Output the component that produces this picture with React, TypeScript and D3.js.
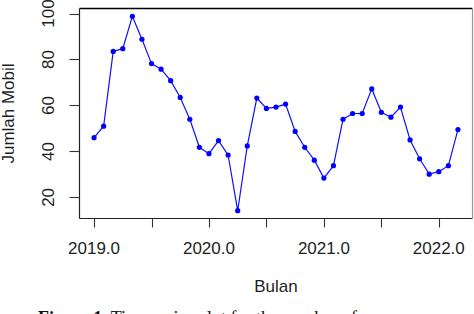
import React from "react";
import * as d3 from "d3";

const startYear = 2019;
const values = [
  46, 51, 83.5, 84.7, 98.8, 88.8, 78.2, 75.8, 70.8, 63.5, 54, 41.8,
  39, 44.7, 38.4, 14.2, 42.4, 63.2, 58.7, 59.3, 60.6, 48.7, 41.8, 36.2,
  28.4, 33.8, 54, 56.5, 56.5, 67.2, 57, 54.9, 59.3, 45, 36.8, 30.1,
  31.2, 33.8, 49.5,
];
const xTicks = [2019, 2019.5, 2020, 2020.5, 2021, 2021.5, 2022];
const xLabelTicks = [2019, 2020, 2021, 2022];
const yTicks = [20, 40, 60, 80, 100];
const xTitle = "Bulan";
const yTitle = "Jumlah Mobil";
const captionBold = "Figure 1.";
const captionText = "Time series plot for the number of";

export default function App() {
  const W = 474, H = 314;
  const left = 79.5, right = 472.5, top = 8.5, bottom = 218.5;
  const data = values.map((v, i) => ({ t: startYear + i / 12, v }));
  const tMin = d3.min(data, d => d.t)!, tMax = d3.max(data, d => d.t)!;
  const vMin = d3.min(values)!, vMax = d3.max(values)!;
  const tPad = (tMax - tMin) * 0.04, vPad = (vMax - vMin) * 0.04;
  const x = d3.scaleLinear().domain([tMin - tPad, tMax + tPad]).range([left, right]);
  const y = d3.scaleLinear().domain([vMin - vPad, vMax + vPad]).range([bottom, top]);
  const line = d3.line<{ t: number; v: number }>().x(d => x(d.t)).y(d => y(d.v));
  const font = "'Liberation Sans', Arial, sans-serif";
  const textCol = "#1e1e1e";
  return (
    <svg width={W} height={H} style={{ position: "absolute", left: 0, top: 0, background: "#fff" }}>
      <rect x={0} y={0} width={W} height={H} fill="#fff" />
      <path d={line(data)!} fill="none" stroke="#1010ff" strokeWidth={1.2} />
      {data.map((d, i) => (
        <circle key={i} cx={x(d.t)} cy={y(d.v)} r={2.6} fill="#0000ff" />
      ))}
      <line x1={left} y1={top} x2={right} y2={top} stroke="#000" strokeWidth={1.3} />
      <line x1={left} y1={bottom} x2={right} y2={bottom} stroke="#222" strokeWidth={1.2} />
      <line x1={left} y1={top} x2={left} y2={bottom} stroke="#222" strokeWidth={1.2} />
      <line x1={right} y1={top} x2={right} y2={bottom} stroke="#999" strokeWidth={1.2} />
      {xTicks.map(t => (
        <line key={t} x1={Math.round(x(t)) + 0.5} x2={Math.round(x(t)) + 0.5} y1={bottom} y2={bottom + 9} stroke="#333" strokeWidth={1.1} />
      ))}
      {xLabelTicks.map(t => (
        <text key={t} x={x(t)} y={254} textAnchor="middle" fontFamily={font} fontSize={17} fill={textCol}>
          {t.toFixed(1)}
        </text>
      ))}
      {yTicks.map(v => (
        <g key={v}>
          <line x1={left - 10} x2={left} y1={Math.round(y(v)) + 0.5} y2={Math.round(y(v)) + 0.5} stroke="#333" strokeWidth={1.1} />
          <text transform={`translate(53.5,${y(v)}) rotate(-90)`} textAnchor="middle" fontFamily={font} fontSize={17} fill={textCol}>
            {v}
          </text>
        </g>
      ))}
      <text x={(left + right) / 2} y={291.5} textAnchor="middle" fontFamily={font} fontSize={17} fill={textCol}>
        {xTitle}
      </text>
      <text transform={`translate(13.5,${(top + bottom) / 2}) rotate(-90)`} textAnchor="middle" fontFamily={font} fontSize={17} fill={textCol}>
        {yTitle}
      </text>
      <text x={38} y={323.5} fontFamily="'Liberation Serif', 'Times New Roman', serif" fontSize={18} fill="#111">
        <tspan fontWeight="bold">{captionBold}</tspan>
        <tspan dx={4}>{captionText}</tspan>
      </text>
    </svg>
  );
}
